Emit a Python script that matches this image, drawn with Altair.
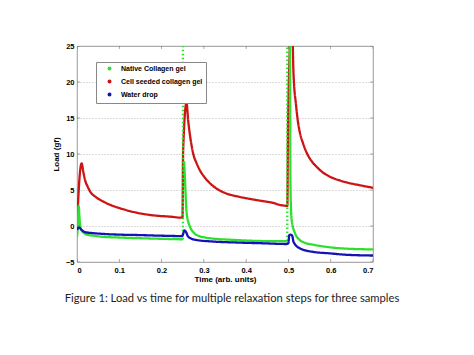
import altair as alt
import pandas as pd

# ---- data ----
series_names = ["Native Collagen gel", "Cell seeded collagen gel", "Water drop"]
series_colors = ["#2ee02e", "#cc1414", "#1414b4"]

# Cell seeded collagen gel (red), one continuous trace
red_t = [0.0, 0.002, 0.011, 0.015, 0.019, 0.025, 0.031, 0.045, 0.062, 0.08, 0.102, 0.141,
         0.18, 0.22, 0.2485,
         0.2495, 0.251, 0.259, 0.263, 0.267, 0.275, 0.283, 0.291, 0.30, 0.315, 0.33, 0.354,
         0.38, 0.401, 0.43, 0.456, 0.4965,
         0.4975, 0.499, 0.508, 0.512, 0.518, 0.522, 0.527, 0.535, 0.543, 0.555, 0.567, 0.58,
         0.598, 0.62, 0.638, 0.67, 0.7]
red_v = [-0.5, 2.5, 8.7, 7.5, 6.4, 5.5, 4.8, 4.0, 3.4, 2.9, 2.46, 1.85,
         1.48, 1.3, 1.15,
         1.2, 10.5, 17.1, 14.6, 12.7, 10.0, 8.7, 7.7, 6.9, 5.9, 5.2, 4.5,
         4.1, 3.85, 3.55, 3.3, 2.8,
         2.8, 14.0, 29.0, 21.2, 16.8, 14.7, 13.0, 11.4, 10.2, 9.0, 8.2, 7.5,
         6.85, 6.35, 6.05, 5.65, 5.3]

# Native collagen gel (green), solid segments
green1_t = [0.0, 0.002, 0.004, 0.006, 0.009, 0.015, 0.023, 0.04, 0.06, 0.1, 0.15, 0.2, 0.2505]
green1_v = [-1.5, 0.0, 2.8, 1.0, -0.4, -0.9, -1.2, -1.35, -1.5, -1.6, -1.7, -1.78, -1.85]
green2_t = [0.2535, 0.2554, 0.2594, 0.2672, 0.275, 0.283, 0.3145, 0.3777, 0.456, 0.4965]
green2_v = [9.0, 6.4, 1.76, -0.1, -0.85, -1.25, -1.7, -1.95, -2.1, -2.1]
green3_t = [0.5035, 0.505, 0.5077, 0.5155, 0.527, 0.54, 0.559, 0.598, 0.638, 0.7]
green3_v = [27.0, 5.0, 0.83, -1.0, -1.95, -2.35, -2.6, -2.96, -3.15, -3.25]
# sparsely sampled (dotted) green jumps
gspike1_t = [0.2505, 0.2505]
gspike1_v = [-1.85, 30.0]
gspike2_t = [0.4973, 0.4973]
gspike2_v = [-2.1, 30.0]

# Water drop (blue)
blue_t = [0.0, 0.002, 0.005, 0.01, 0.019, 0.04, 0.062, 0.1, 0.141, 0.2, 0.249,
          0.2515, 0.254, 0.258, 0.262, 0.27, 0.283, 0.32, 0.38, 0.44, 0.4955,
          0.4997, 0.502, 0.505, 0.509, 0.512, 0.527, 0.559, 0.598, 0.638, 0.7]
blue_v = [-0.55, -0.3, -0.2, -0.5, -0.85, -1.0, -1.1, -1.2, -1.25, -1.35, -1.4,
          -1.0, -0.6, -0.85, -1.4, -1.75, -1.95, -2.15, -2.3, -2.4, -2.5,
          -2.4, -1.3, -1.2, -1.35, -2.2, -3.1, -3.6, -3.8, -4.0, -4.1]

x_ticks = [0.0, 0.1, 0.2, 0.3, 0.4, 0.5, 0.6, 0.7]
y_ticks = [-5, 0, 5, 10, 15, 20, 25]
x_title = "Time (arb. units)"
y_title = "Load (gf)"
caption = "Figure 1: Load vs time for multiple relaxation steps for three samples"

# ---- build table ----
rows = []
def add(ts, vs, name, seg, style):
    for i, (t, v) in enumerate(zip(ts, vs)):
        rows.append({"t": t, "v": v, "series": name, "seg": seg, "style": style, "o": i})

add(red_t, red_v, series_names[1], "r", "solid")
add(green1_t, green1_v, series_names[0], "g1", "solid")
add(green2_t, green2_v, series_names[0], "g2", "solid")
add(green3_t, green3_v, series_names[0], "g3", "solid")
add(gspike1_t, gspike1_v, series_names[0], "gs1", "dot")
add(gspike2_t, gspike2_v, series_names[0], "gs2", "dot")
add(blue_t, blue_v, series_names[2], "b", "solid")
df = pd.DataFrame(rows)

FONT = "Liberation Sans"

xscale = alt.Scale(domain=[0, 0.7], nice=False, zero=False)
yscale = alt.Scale(domain=[-5, 25], nice=False, zero=False)
x_axis = alt.Axis(values=x_ticks, format="~g", title=x_title, grid=False,
                  tickSize=0, domain=False, labelPadding=4, titlePadding=2,
                  labelOverlap=False)
y_axis = alt.Axis(values=y_ticks, title=y_title, grid=True, gridDash=[1, 2],
                  gridColor="#aaaaaa", gridWidth=0.8, tickSize=0, domain=False,
                  labelPadding=3, titlePadding=5, labelOverlap=False)

color = alt.Color(
    "series:N",
    scale=alt.Scale(domain=series_names, range=series_colors),
    sort=series_names,
    legend=alt.Legend(
        title=None, orient="none", legendX=19, legendY=16,
        fillColor="white", strokeColor="#888", padding=3, rowPadding=2,
        symbolType="circle", symbolSize=4, symbolStrokeWidth=2, symbolOffset=7,
        labelFont=FONT, labelFontSize=7, labelFontWeight="bold", labelColor="black",
        labelOffset=8,
    ),
)

lines = alt.Chart(df).mark_line(clip=True, strokeWidth=2.3, interpolate="monotone").encode(
    x=alt.X("t:Q", scale=xscale, axis=x_axis),
    y=alt.Y("v:Q", scale=yscale, axis=y_axis),
    color=color,
    detail="seg:N",
    order="o:Q",
    strokeDash=alt.StrokeDash("style:N",
                              scale=alt.Scale(domain=["solid", "dot"], range=[[1, 0], [1.5, 2.5]]),
                              legend=None),
)

xt = pd.DataFrame({"t": x_ticks})
yt = pd.DataFrame({"v": y_ticks})
tick_kw = dict(clip=True, size=6, thickness=0.7, color="#555555")
xt_bot = alt.Chart(xt).mark_tick(**tick_kw).encode(
    x=alt.X("t:Q", scale=xscale, axis=x_axis), y=alt.value(216))
xt_top = alt.Chart(xt).mark_tick(**tick_kw).encode(
    x=alt.X("t:Q", scale=xscale, axis=x_axis), y=alt.value(0))
yt_l = alt.Chart(yt).mark_tick(**tick_kw).encode(
    y=alt.Y("v:Q", scale=yscale, axis=y_axis), x=alt.value(0))
yt_r = alt.Chart(yt).mark_tick(**tick_kw).encode(
    y=alt.Y("v:Q", scale=yscale, axis=y_axis), x=alt.value(296))

cap = alt.Chart(pd.DataFrame({"c": [caption]})).mark_text(
    font="Lato", fontSize=11.2, color="#222222", align="center", baseline="middle"
).encode(text="c:N", x=alt.value(155), y=alt.value(253))

chart = alt.layer(lines, xt_bot, xt_top, yt_l, yt_r, cap).properties(
    width=296, height=216,
    autosize=alt.AutoSizeParams(type="none"),
    padding={"left": 77, "top": 46, "right": 101, "bottom": 93},
    background="white",
).configure_view(stroke="#808080", strokeWidth=0.8).configure_axis(
    labelFont=FONT, labelFontSize=7.5, labelFontWeight="bold", labelColor="black",
    titleFont=FONT, titleFontSize=8, titleFontWeight="bold", titleColor="black",
)

chart.save("out.html", embed_options={"renderer": "svg", "actions": False})
